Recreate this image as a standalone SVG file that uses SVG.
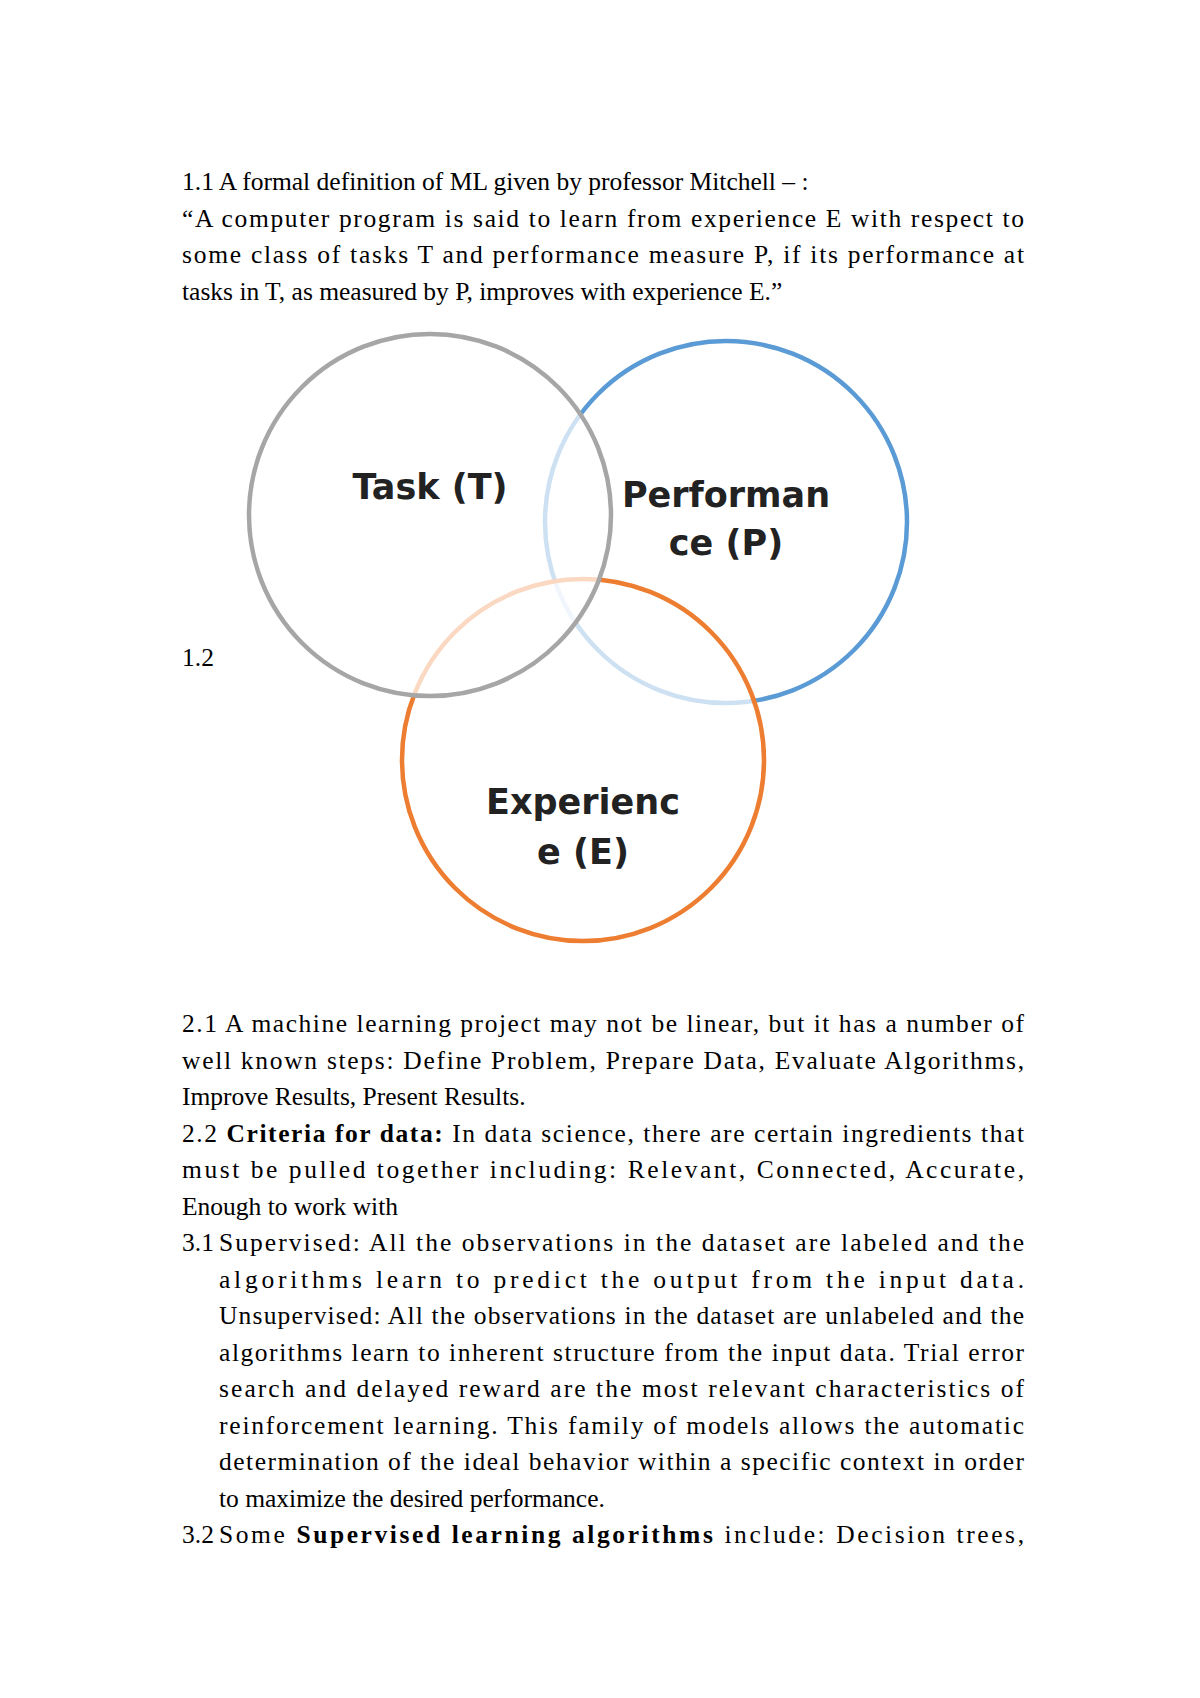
<svg xmlns="http://www.w3.org/2000/svg" width="1200" height="1698" viewBox="0 0 1200 1698">
<style>
.t{font-family:"Liberation Serif",serif;font-size:25.5px;fill:#000}
.b{font-weight:bold}
.c{font-family:"DejaVu Sans",sans-serif;font-weight:bold;font-size:35px;fill:#222;text-anchor:middle}
.ring{fill:#fff;fill-opacity:0.7;stroke-width:4.5}
</style>
<rect width="1200" height="1698" fill="#fff"/>
<g id="heading">
<text class="t" x="182" y="190">1.1 A formal definition of ML given by professor Mitchell – :</text>
<text class="t" x="182" y="227" textLength="842" lengthAdjust="spacing">“A computer program is said to learn from experience E with respect to</text>
<text class="t" x="182" y="263" textLength="842" lengthAdjust="spacing">some class of tasks T and performance measure P, if its performance at</text>
<text class="t" x="182" y="300">tasks in T, as measured by P, improves with experience E.”</text>
<text class="t" x="182" y="666">1.2</text>
</g>
<g id="performance"><circle class="ring" cx="726" cy="522" r="181" stroke="#5b9bd5"/></g>
<g id="experience"><circle class="ring" cx="583" cy="760" r="181" stroke="#ed7d31"/></g>
<g id="task"><circle class="ring" cx="430" cy="515" r="181" stroke="#a6a6a6"/></g>
<g id="labels">
<text class="c" x="430" y="499">Task (T)</text>
<text class="c" x="726" y="507">Performan</text>
<text class="c" x="726" y="555">ce (P)</text>
<text class="c" x="583" y="814">Experienc</text>
<text class="c" x="583" y="864">e (E)</text>
</g>
<g id="connectors"></g>
<g id="body">
<text class="t" x="182" y="1032" textLength="842" lengthAdjust="spacing">2.1 A machine learning project may not be linear, but it has a number of</text>
<text class="t" x="182" y="1069" textLength="842" lengthAdjust="spacing">well known steps: Define Problem, Prepare Data, Evaluate Algorithms,</text>
<text class="t" x="182" y="1105">Improve Results, Present Results.</text>
<text class="t" x="182" y="1142" textLength="842" lengthAdjust="spacing">2.2 <tspan class="b">Criteria for data:</tspan> In data science, there are certain ingredients that</text>
<text class="t" x="182" y="1178" textLength="842" lengthAdjust="spacing">must be pulled together including: Relevant, Connected, Accurate,</text>
<text class="t" x="182" y="1215">Enough to work with</text>
<text class="t" x="182" y="1251">3.1</text>
<text class="t" x="219" y="1251" textLength="805" lengthAdjust="spacing">Supervised: All the observations in the dataset are labeled and the</text>
<text class="t" x="219" y="1288" textLength="805" lengthAdjust="spacing">algorithms learn to predict the output from the input data.</text>
<text class="t" x="219" y="1324" textLength="805" lengthAdjust="spacing">Unsupervised: All the observations in the dataset are unlabeled and the</text>
<text class="t" x="219" y="1361" textLength="805" lengthAdjust="spacing">algorithms learn to inherent structure from the input data. Trial error</text>
<text class="t" x="219" y="1397" textLength="805" lengthAdjust="spacing">search and delayed reward are the most relevant characteristics of</text>
<text class="t" x="219" y="1434" textLength="805" lengthAdjust="spacing">reinforcement learning. This family of models allows the automatic</text>
<text class="t" x="219" y="1470" textLength="805" lengthAdjust="spacing">determination of the ideal behavior within a specific context in order</text>
<text class="t" x="219" y="1507">to maximize the desired performance.</text>
<text class="t" x="182" y="1543">3.2</text>
<text class="t" x="219" y="1543" textLength="805" lengthAdjust="spacing">Some <tspan class="b">Supervised learning algorithms</tspan> include: Decision trees,</text>
</g>
</svg>
